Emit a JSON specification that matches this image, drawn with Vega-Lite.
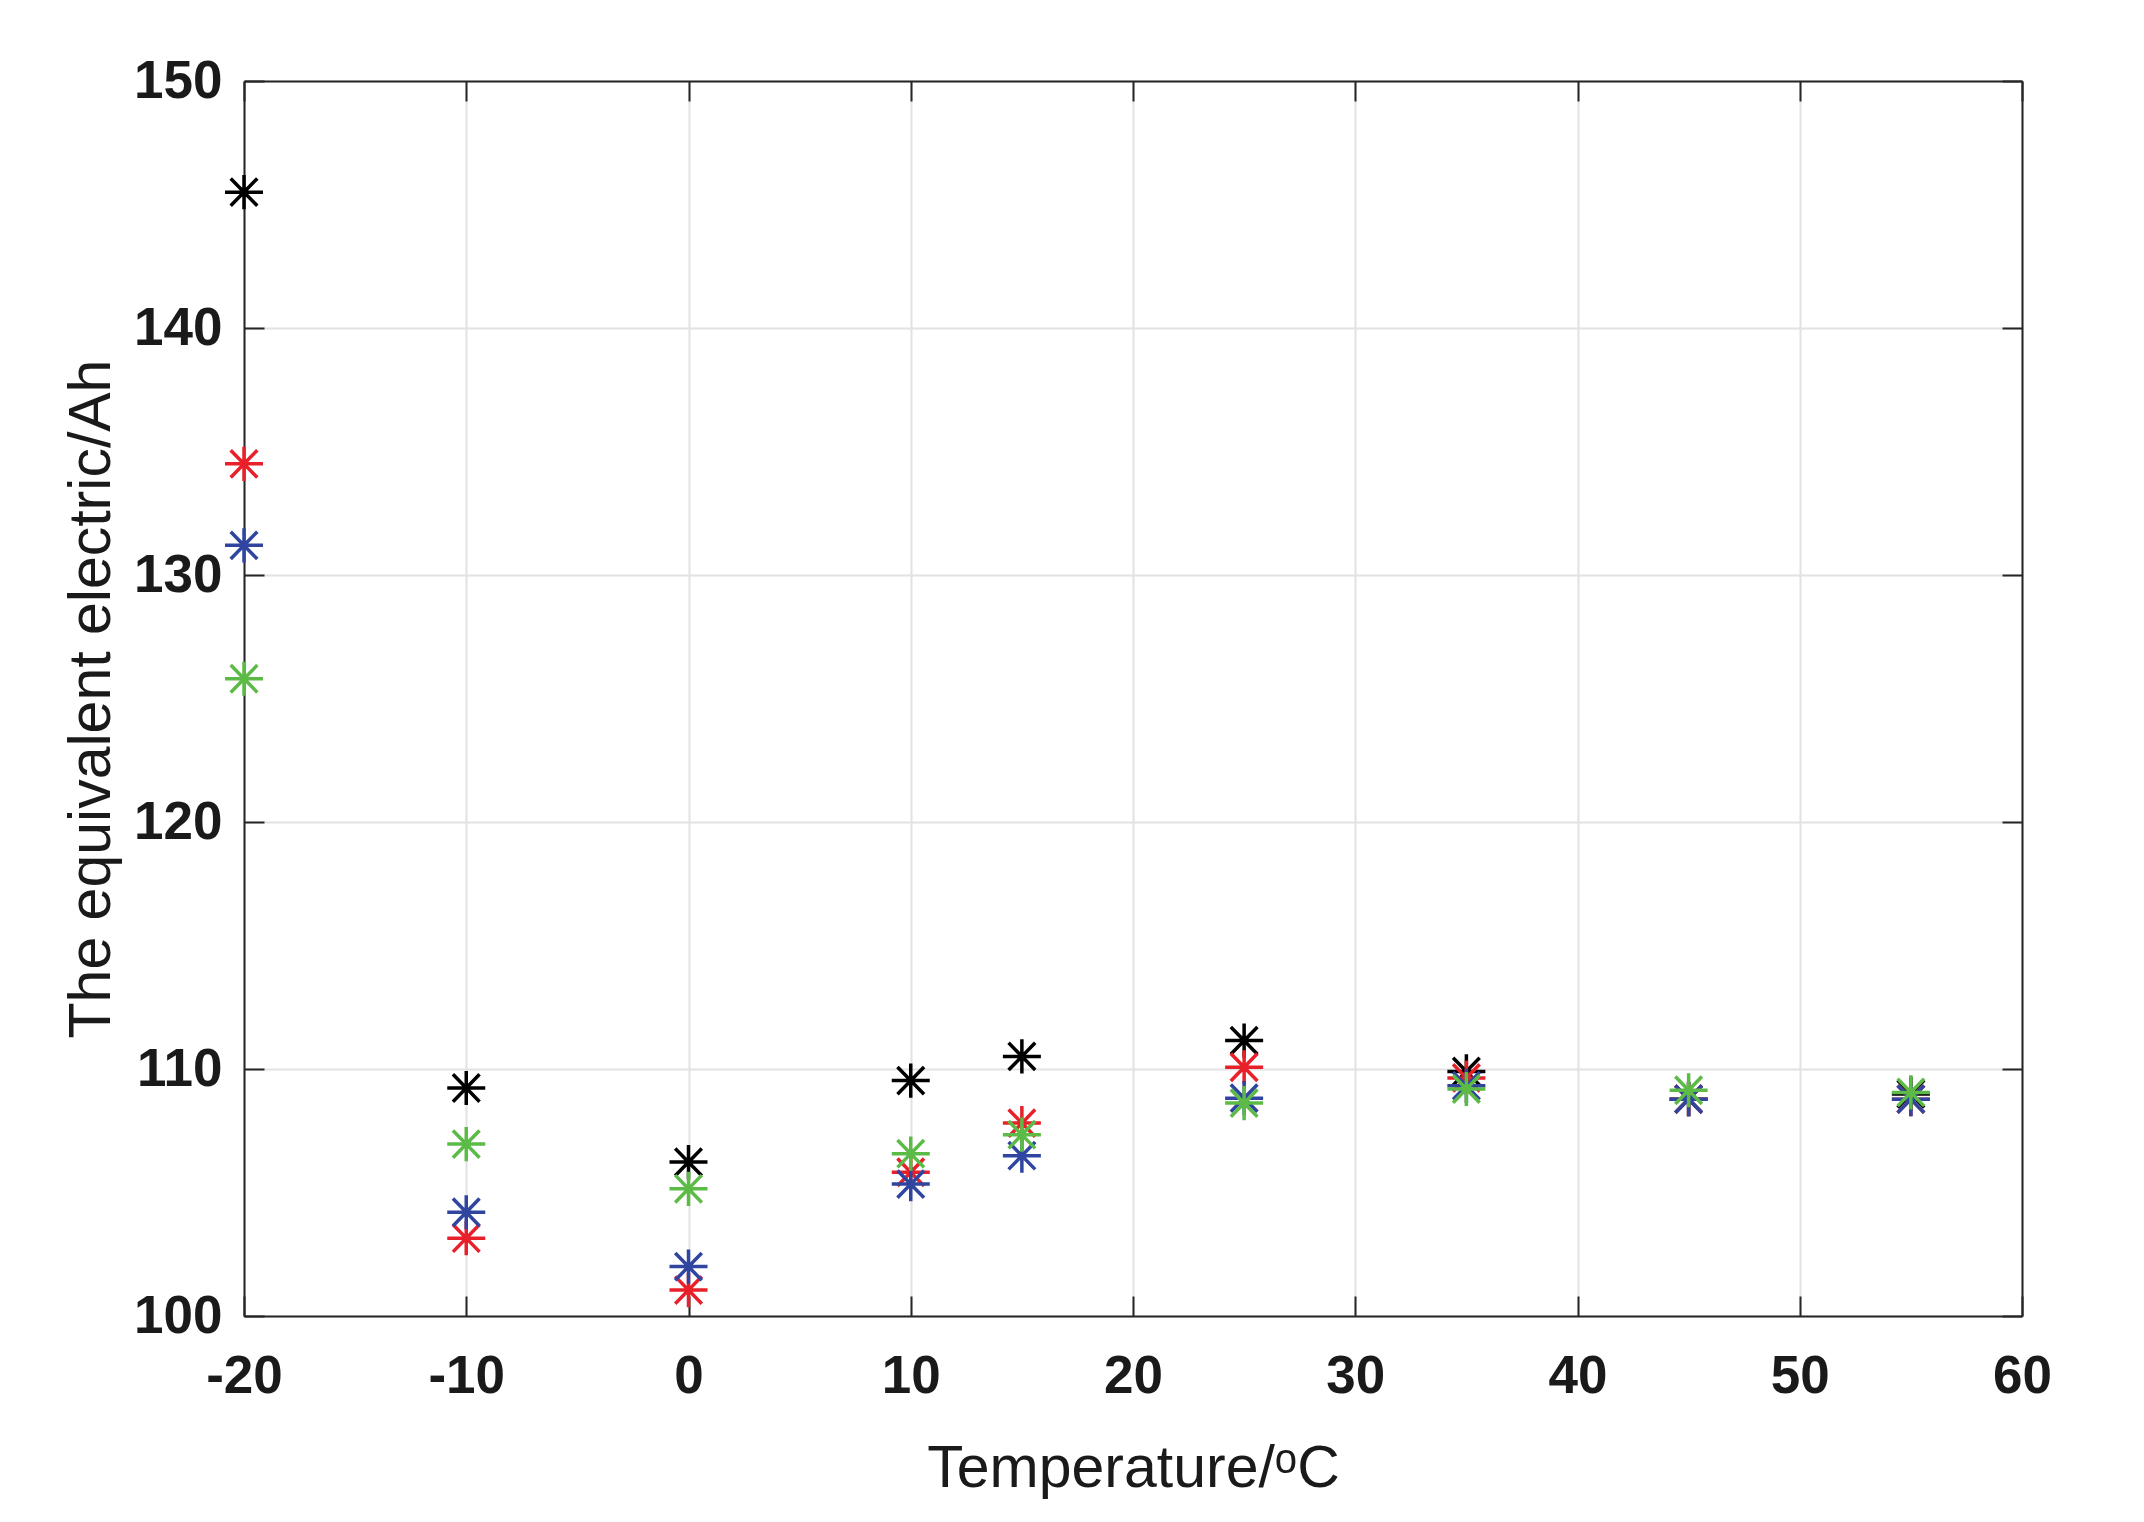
{
  "$schema": "https://vega.github.io/schema/vega-lite/v6.json",
  "description": "Equivalent electric charge versus temperature, four series of asterisk markers.",
  "width": 1778,
  "height": 1235,
  "autosize": {"type": "none"},
  "padding": {"left": 244, "top": 81, "right": 122, "bottom": 206},
  "background": "white",
  "config": {
    "view": {"stroke": null},
    "font": "Liberation Sans"
  },
  "data": {
    "values": [
      {"T": -20, "series": "k", "Ah": 145.5},
      {"T": -10, "series": "k", "Ah": 109.23},
      {"T": 0, "series": "k", "Ah": 106.23},
      {"T": 10, "series": "k", "Ah": 109.53},
      {"T": 15, "series": "k", "Ah": 110.51},
      {"T": 25, "series": "k", "Ah": 111.15},
      {"T": 35, "series": "k", "Ah": 109.9},
      {"T": 45, "series": "k", "Ah": 108.78},
      {"T": 55, "series": "k", "Ah": 108.99},
      {"T": -20, "series": "r", "Ah": 134.5},
      {"T": -10, "series": "r", "Ah": 103.15},
      {"T": 0, "series": "r", "Ah": 101.05},
      {"T": 10, "series": "r", "Ah": 105.82},
      {"T": 15, "series": "r", "Ah": 107.81},
      {"T": 25, "series": "r", "Ah": 110.07},
      {"T": 35, "series": "r", "Ah": 109.64},
      {"T": 45, "series": "r", "Ah": 108.78},
      {"T": 55, "series": "r", "Ah": 108.78},
      {"T": -20, "series": "b", "Ah": 131.2},
      {"T": -10, "series": "b", "Ah": 104.2},
      {"T": 0, "series": "b", "Ah": 102.0},
      {"T": 10, "series": "b", "Ah": 105.34},
      {"T": 15, "series": "b", "Ah": 106.49},
      {"T": 25, "series": "b", "Ah": 108.82},
      {"T": 35, "series": "b", "Ah": 109.32},
      {"T": 45, "series": "b", "Ah": 108.78},
      {"T": 55, "series": "b", "Ah": 108.78},
      {"T": -20, "series": "g", "Ah": 125.8},
      {"T": -10, "series": "g", "Ah": 106.96},
      {"T": 0, "series": "g", "Ah": 105.15},
      {"T": 10, "series": "g", "Ah": 106.57},
      {"T": 15, "series": "g", "Ah": 107.34},
      {"T": 25, "series": "g", "Ah": 108.62},
      {"T": 35, "series": "g", "Ah": 109.19},
      {"T": 45, "series": "g", "Ah": 109.14},
      {"T": 55, "series": "g", "Ah": 109.05}
    ]
  },
  "layer": [
    {
      "mark": {"type": "point", "opacity": 0},
      "encoding": {
        "x": {
          "field": "T", "type": "quantitative",
          "scale": {"domain": [-20, 60], "nice": false, "zero": false},
          "axis": {
            "orient": "top", "labels": false, "title": null, "grid": false,
            "values": [-20, -10, 0, 10, 20, 30, 40, 50, 60],
            "domainColor": "#262626", "domainWidth": 2,
            "tickColor": "#262626", "tickWidth": 2, "tickSize": -20
          }
        },
        "y": {
          "field": "Ah", "type": "quantitative",
          "scale": {"domain": [100, 150], "nice": false, "zero": false},
          "axis": {
            "orient": "right", "labels": false, "title": null, "grid": false,
            "values": [100, 110, 120, 130, 140, 150],
            "domainColor": "#262626", "domainWidth": 2,
            "tickColor": "#262626", "tickWidth": 2, "tickSize": -20
          }
        }
      }
    },
    {
      "mark": {
        "type": "point",
        "shape": "M-1,0L1,0M0,-0.9L0,0.9M-0.7,-0.72L0.7,0.72M-0.7,0.72L0.7,-0.72",
        "filled": false,
        "size": 1444,
        "strokeWidth": 3.5,
        "opacity": 1
      },
      "encoding": {
        "x": {
          "field": "T", "type": "quantitative",
          "axis": {
            "orient": "bottom",
            "values": [-20, -10, 0, 10, 20, 30, 40, 50, 60],
            "labelExpr": "'' + datum.value",
            "labelFlush": false,
            "title": "Temperature/ᵒC",
            "titleFont": "Liberation Sans", "titleFontSize": 59, "titleFontWeight": "normal",
            "titleColor": "#1a1a1a", "titlePadding": 36,
            "labelFont": "Liberation Sans", "labelFontSize": 53, "labelFontWeight": "bold",
            "labelColor": "#1a1a1a", "labelPadding": 54,
            "domainColor": "#262626", "domainWidth": 2,
            "tickColor": "#262626", "tickWidth": 2, "tickSize": -20,
            "grid": true, "gridColor": "#e2e2e2", "gridWidth": 2
          }
        },
        "y": {
          "field": "Ah", "type": "quantitative",
          "axis": {
            "orient": "left",
            "values": [100, 110, 120, 130, 140, 150],
            "labelExpr": "'' + datum.value",
            "labelFlush": false,
            "title": "The equivalent electric/Ah",
            "titleFont": "Liberation Sans", "titleFontSize": 59, "titleFontWeight": "normal",
            "titleColor": "#1a1a1a", "titlePadding": 12,
            "labelFont": "Liberation Sans", "labelFontSize": 53, "labelFontWeight": "bold",
            "labelColor": "#1a1a1a", "labelPadding": 42,
            "domainColor": "#262626", "domainWidth": 2,
            "tickColor": "#262626", "tickWidth": 2, "tickSize": -20,
            "grid": true, "gridColor": "#e2e2e2", "gridWidth": 2
          }
        },
        "color": {
          "field": "series", "type": "nominal",
          "scale": {"domain": ["k", "r", "b", "g"], "range": ["#000000", "#e8202a", "#2f45a0", "#5cbb46"]},
          "legend": null
        }
      }
    }
  ],
  "resolve": {"axis": {"x": "independent", "y": "independent"}}
}
